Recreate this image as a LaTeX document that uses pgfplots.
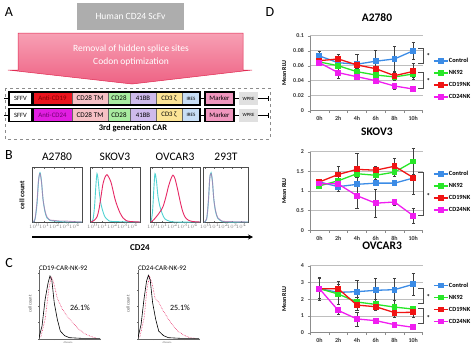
\documentclass[border=0pt]{standalone}
\usepackage{pgfplots}
\pgfplotsset{compat=1.18}
\usetikzlibrary{arrows.meta}
\usepackage{fontspec}
\setmainfont{Carlito}
\setsansfont{Carlito}
\newcommand{\fs}[1]{\fontsize{#1}{#1}\selectfont}
\definecolor{cctrl}{RGB}{60,140,230}
\definecolor{cnk}{RGB}{40,230,40}
\definecolor{cnineteen}{RGB}{240,20,20}
\definecolor{ctwentyfour}{RGB}{240,30,240}
\definecolor{gridc}{RGB}{190,190,190}
\definecolor{hcyan}{RGB}{80,210,210}
\definecolor{hred}{RGB}{230,40,100}
\definecolor{hmix}{RGB}{175,120,175}
\pgfplotsset{
 dax/.style={scale only axis, width=112.7pt, xmin=-0.5, xmax=5.5,
  xtick={0,1,2,3,4,5}, xticklabels={0h,2h,4h,6h,8h,10h},
  minor xtick={-0.5,0.5,1.5,2.5,3.5,4.5,5.5},
  axis x line*=bottom, axis y line*=left,
  ymajorgrids, grid style={gridc, line width=0.7pt},
  axis line style={black!45, line width=0.6pt},
  major tick length=2.5pt, minor tick length=2.5pt, tick align=outside,
  major x tick style={draw=none}, every tick/.style={black!45},
  tick label style={font=\fs{6}\bfseries, text=black!80},
  scaled y ticks=false, clip=false,
  ylabel={Mean RLU}, ylabel style={at={(axis description cs:-0.23,0.5)}, anchor=center, font=\fs{6}\bfseries},
  every axis plot/.append style={line width=1.3pt, mark=square*, mark size=2.3pt, mark options={solid}},
  error bars/y dir=both, error bars/y explicit,
  error bars/error bar style={line width=0.5pt, black!75},
  error bars/error mark options={rotate=90, mark size=1.6pt, line width=0.5pt, black!75},
  legend cell align=left,
  legend image code/.code={\draw[mark repeat=2,mark phase=2] plot coordinates {(0pt,0pt) (7pt,0pt) (14pt,0pt)};},
  legend style={draw=none, fill=none, anchor=west, font=\fs{6.3}\bfseries, row sep=5.5pt, inner sep=0pt, nodes={inner sep=0.5pt, text height=4.5pt, text depth=1pt}},
 },
 hax/.style={scale only axis, xmin=0, xmax=1, ymin=0, ymax=1.08, ytick=\empty,
  xtick={0.05,0.25,0.45,0.65,0.85}, xticklabels={$10^0$,$10^1$,$10^2$,$10^3$,$10^4$},
  xticklabel style={font=\fs{2.5}, text=black!50, yshift=2pt},
  tick align=inside, major tick length=1.5pt, axis line style={black!70, line width=0.5pt},
  every tick/.style={black!60}, clip=true},
 cax/.style={scale only axis, width=61pt, height=69pt, xmin=0, xmax=1, ymin=0, ymax=1.05,
  axis x line*=bottom, axis y line*=left, ytick={0,0.25,0.5,0.75,1}, yticklabels={},
  xtick={0,0.25,0.5,0.75,1}, xticklabels={},
  tick align=outside, major tick length=1pt, axis line style={black!60, line width=0.4pt},
  every tick/.style={black!60}},
}
\begin{document}
\begin{tikzpicture}
\path[use as bounding box] (0,0) rectangle (474pt,-348pt);
\begin{scope}[x=1pt,y=-1pt]
% ---------- Panel A ----------
\node[font=\fs{14}] at (9,12) {A};
\node[fill=black!32, text=white, font=\fs{9.5}, minimum width=107pt, minimum height=27pt, inner sep=0pt] at (130.5,16.5) {Human CD24 ScFv};
\shade[top color={rgb,255:red,247;green,160;blue,180}, bottom color={rgb,255:red,238;green,98;blue,132}, draw={rgb,255:red,225;green,40;blue,80}, line width=0.5pt]
  (18,33) -- (243,33) -- (243,70) -- (252,70) -- (132,84) -- (8,70) -- (18,70) -- cycle;
\node[text=white, font=\fs{9.5}] at (131,48.5) {Removal of hidden splice sites};
\node[text=white, font=\fs{9.5}] at (131,62) {Codon optimization};
\draw[black!45, dashed, line width=0.8pt] (5,88) rectangle (270,139);
\foreach \yc/\abfill/\abtext/\ablab in {98.5/{rgb,255:red,235;green,20;blue,30}/{rgb,255:red,120;green,0;blue,0}/Anti-CD19, 115/{rgb,255:red,225;green,30;blue,225}/{rgb,255:red,110;green,0;blue,110}/Anti-CD24}{
  \draw[line width=0.7pt] (4,\yc) -- (268,\yc);
  \draw[line width=0.7pt] (268,\yc-2.5) -- (268,\yc+2.5);
  \filldraw[fill=white, draw=black, line width=1.2pt] (9,\yc-6.5) rectangle (32,\yc+6.5);
  \node[font=\fs{6.5}] at (20.5,\yc) {SFFV};
  \filldraw[fill=\abfill, draw=black!60, line width=0.4pt] (33,\yc-6.5) rectangle (72,\yc+6.5);
  \node[font=\fs{6.8}, text=\abtext] at (52.5,\yc) {\ablab};
  \filldraw[fill={rgb,255:red,246;green,192;blue,197}, draw=black!60, line width=0.4pt] (72,\yc-6.5) rectangle (108,\yc+6.5);
  \node[font=\fs{7.2}] at (90,\yc) {CD28 TM};
  \filldraw[fill={rgb,255:red,168;green,236;blue,160}, draw=black!60, line width=0.4pt] (108,\yc-6.5) rectangle (130,\yc+6.5);
  \node[font=\fs{7}] at (119,\yc) {CD28};
  \filldraw[fill={rgb,255:red,206;green,186;blue,236}, draw=black!60, line width=0.4pt] (130,\yc-6.5) rectangle (156,\yc+6.5);
  \node[font=\fs{6.8}] at (143,\yc) {41BB};
  \filldraw[fill={rgb,255:red,252;green,228;blue,150}, draw=black!60, line width=0.4pt] (156,\yc-6.5) rectangle (182,\yc+6.5);
  \node[font=\fs{6.8}] at (169,\yc) {CD3 ζ};
  \filldraw[fill={rgb,255:red,200;green,222;blue,245}, draw=black!60, line width=0.4pt] (182,\yc-6.5) rectangle (200,\yc+6.5);
  \node[font=\fs{5}] at (191,\yc) {IRES};
  \draw[line width=1.2pt] (33,\yc-6.5) rectangle (200,\yc+6.5);
  \filldraw[fill={rgb,255:red,240;green,150;blue,190}, draw=black, line width=1.2pt] (205,\yc-6.5) rectangle (234,\yc+6.5);
  \node[font=\fs{6.8}] at (219.5,\yc) {Marker};
  \fill[black!12] (239,\yc-6.5) rectangle (258,\yc+6.5);
  \node[font=\fs{4.8}] at (248.5,\yc) {WPRE};
}
\node[font=\fs{8.5}\bfseries] at (133,128.5) {3rd generation CAR};
% ---------- Panel B ----------
\node[font=\fs{14}] at (9,155) {B};
\node[font=\fs{11.5}] at (57,157) {A2780};
\node[font=\fs{11.5}] at (115,157) {SKOV3};
\node[font=\fs{11.5}] at (175,157) {OVCAR3};
\node[font=\fs{11.5}] at (226,157) {293T};
\node[font=\fs{7}\bfseries, rotate=90] at (22,195) {cell count};
\draw[line width=1.2pt, -{Stealth[length=5pt,width=5pt]}] (32,237) -- (253,237);
\node[font=\fs{9}\bfseries] at (140,247.5) {CD24};
% ---------- Panel C ----------
\node[font=\fs{14}] at (9,263) {C};
\node[font=\fs{7}, anchor=west, inner sep=0pt] at (39,268) {CD19-CAR-NK-92};
\node[font=\fs{7}, anchor=west, inner sep=0pt] at (138,268) {CD24-CAR-NK-92};
\node[font=\fs{8}] at (80,308) {26.1\%};
\node[font=\fs{8}] at (180,308) {25.1\%};
\node[font=\fs{4.5}, rotate=90, text=black!70] at (30,304) {cell count};
\node[font=\fs{4.5}, rotate=90, text=black!70] at (128,304) {cell count};
\node[font=\fs{2.5}, text=black!60] at (68,343) {dTomato};
\node[font=\fs{2.5}, text=black!60] at (167,343) {dTomato};
% ---------- Panel D ----------
\node[font=\fs{14}] at (270,12) {D};
\end{scope}

% ===== B histograms =====
\begin{axis}[hax, width=50pt, height=55pt, at={(32pt,-222pt)}, anchor=south west]
\addplot[hcyan, line width=0.9pt, smooth] coordinates {(0.02,0) (0.06,0.05) (0.1,0.35) (0.13,0.8) (0.16,0.97) (0.19,0.8) (0.22,0.45) (0.26,0.2) (0.3,0.08) (0.36,0.03) (0.45,0.02) (0.55,0.01) (0.7,0) (1,0)};
\addplot[hmix, line width=0.9pt, smooth, opacity=0.75] coordinates {(0.02,0) (0.06,0.06) (0.1,0.4) (0.13,0.82) (0.16,0.95) (0.19,0.78) (0.22,0.45) (0.26,0.22) (0.3,0.1) (0.36,0.04) (0.45,0.03) (0.55,0.02) (0.65,0.02) (0.8,0.01) (1,0)};
\end{axis}
\begin{axis}[hax, width=50pt, height=55pt, at={(90pt,-222pt)}, anchor=south west]
\addplot[hcyan, line width=0.9pt, smooth] coordinates {(0.02,0) (0.06,0.05) (0.09,0.3) (0.12,0.75) (0.14,0.95) (0.16,0.85) (0.19,0.55) (0.22,0.35) (0.26,0.2) (0.3,0.1) (0.36,0.04) (0.45,0.01) (1,0)};
\addplot[hred, line width=0.9pt, smooth] coordinates {(0.02,0) (0.08,0.03) (0.14,0.1) (0.18,0.25) (0.22,0.5) (0.26,0.75) (0.3,0.88) (0.34,0.93) (0.38,0.87) (0.42,0.78) (0.46,0.62) (0.5,0.45) (0.55,0.3) (0.6,0.18) (0.66,0.08) (0.72,0.03) (0.8,0.01) (1,0)};
\end{axis}
\begin{axis}[hax, width=50pt, height=55pt, at={(150pt,-222pt)}, anchor=south west]
\addplot[hcyan, line width=0.9pt, smooth] coordinates {(0.02,0) (0.05,0.2) (0.08,0.7) (0.1,0.95) (0.13,0.8) (0.16,0.5) (0.2,0.3) (0.25,0.15) (0.3,0.06) (0.38,0.02) (0.5,0) (1,0)};
\addplot[hred, line width=0.9pt, smooth] coordinates {(0.02,0) (0.08,0.05) (0.14,0.12) (0.2,0.2) (0.26,0.3) (0.32,0.5) (0.37,0.7) (0.42,0.85) (0.46,0.92) (0.5,0.85) (0.55,0.65) (0.6,0.42) (0.65,0.22) (0.7,0.1) (0.76,0.04) (0.85,0.01) (1,0)};
\end{axis}
\begin{axis}[hax, width=45pt, height=55pt, at={(203pt,-222pt)}, anchor=south west]
\addplot[hcyan, line width=0.9pt, smooth] coordinates {(0.02,0) (0.08,0.05) (0.12,0.4) (0.15,0.85) (0.18,0.97) (0.21,0.8) (0.24,0.45) (0.28,0.2) (0.33,0.07) (0.4,0.02) (0.5,0) (1,0)};
\addplot[hmix, line width=0.9pt, smooth, opacity=0.75] coordinates {(0.02,0) (0.08,0.06) (0.12,0.42) (0.15,0.86) (0.18,0.95) (0.21,0.78) (0.24,0.45) (0.28,0.22) (0.33,0.08) (0.4,0.03) (0.5,0.01) (1,0)};
\end{axis}

% ===== C histograms =====
\begin{axis}[cax, at={(39pt,-339pt)}, anchor=south west]
\addplot[hred, line width=0.6pt, densely dotted] coordinates {(0.03,0.03) (0.1,0.3) (0.16,0.75) (0.2,0.95) (0.24,0.86) (0.3,0.62) (0.38,0.46) (0.45,0.36) (0.55,0.25) (0.65,0.15) (0.75,0.08) (0.85,0.04) (0.95,0.01)};
\addplot[black, line width=0.6pt] coordinates {(0,0.02) (0.05,0.2) (0.1,0.6) (0.15,0.86) (0.18,0.96) (0.21,0.9) (0.25,0.55) (0.3,0.3) (0.35,0.12) (0.42,0.05) (0.5,0.02) (0.7,0.01) (1,0.01)};
\end{axis}
\begin{axis}[cax, at={(138pt,-339pt)}, anchor=south west]
\addplot[hred, line width=0.6pt, densely dotted] coordinates {(0.03,0.03) (0.1,0.32) (0.15,0.78) (0.19,0.95) (0.23,0.85) (0.28,0.62) (0.34,0.56) (0.4,0.45) (0.48,0.33) (0.56,0.22) (0.65,0.12) (0.75,0.06) (0.85,0.02) (0.95,0.01)};
\addplot[black, line width=0.6pt] coordinates {(0,0.02) (0.05,0.22) (0.1,0.62) (0.14,0.88) (0.17,0.97) (0.2,0.9) (0.24,0.55) (0.29,0.3) (0.34,0.12) (0.42,0.05) (0.5,0.02) (0.7,0.01) (1,0.01)};
\end{axis}

% ===== D: A2780 =====
\begin{axis}[dax, height=75pt, at={(310pt,-110.7pt)}, anchor=south west,
  ymin=0, ymax=0.1, ytick={0,0.02,0.04,0.06,0.08,0.1}, yticklabels={0,0.02,0.04,0.06,0.08,0.1},
  title={A2780}, title style={at={(axis description cs:0.594,1)}, anchor=base, yshift=8pt, font=\fs{11.5}\bfseries},
  legend style={at={(axis description cs:1.091,0.423)}}]
\addplot[cctrl] table[row sep=\\, x=x, y=y, y error=e] {x y e\\ 0 0.073 0.006\\ 1 0.064 0.003\\ 2 0.062 0.013\\ 3 0.066 0.015\\ 4 0.069 0.017\\ 5 0.080 0.011\\};
\addplot[cnk] table[row sep=\\, x=x, y=y, y error=e] {x y e\\ 0 0.065 0.003\\ 1 0.060 0.003\\ 2 0.052 0.004\\ 3 0.0476 0.003\\ 4 0.045 0.004\\ 5 0.049 0.005\\};
\addplot[cnineteen] table[row sep=\\, x=x, y=y, y error=e] {x y e\\ 0 0.0667 0.003\\ 1 0.069 0.006\\ 2 0.061 0.005\\ 3 0.056 0.003\\ 4 0.0467 0.004\\ 5 0.0524 0.011\\};
\addplot[ctwentyfour] table[row sep=\\, x=x, y=y, y error=e] {x y e\\ 0 0.064 0.003\\ 1 0.0507 0.007\\ 2 0.0453 0.004\\ 3 0.040 0.003\\ 4 0.0329 0.004\\ 5 0.0289 0.003\\};
\legend{Control,NK92,CD19NK,CD24NK}
\draw[black!70, line width=0.5pt] (axis cs:5.25,0.0836) -- (axis cs:5.52,0.0836) -- (axis cs:5.52,0.0636) -- (axis cs:5.25,0.0636);
\draw[black!70, line width=0.5pt] (axis cs:5.25,0.0516) -- (axis cs:5.52,0.0516) -- (axis cs:5.52,0.0303) -- (axis cs:5.25,0.0303);
\node[font=\fs{7}\bfseries] at (axis cs:5.8,0.0735) {*};
\node[font=\fs{7}\bfseries] at (axis cs:5.8,0.040) {*};
\end{axis}

% ===== D: SKOV3 =====
\begin{axis}[dax, height=78.6pt, at={(310pt,-230.3pt)}, anchor=south west,
  ymin=0, ymax=2, ytick={0,0.5,1,1.5,2}, yticklabels={0,0.5,1,1.5,2},
  title={SKOV3}, title style={at={(axis description cs:0.594,1)}, anchor=base, yshift=10pt, font=\fs{11.5}\bfseries},
  legend style={at={(axis description cs:1.091,0.487)}}]
\addplot[cctrl] table[row sep=\\, x=x, y=y, y error=e] {x y e\\ 0 1.23 0.05\\ 1 1.11 0.12\\ 2 1.17 0.05\\ 3 1.20 0.05\\ 4 1.20 0.05\\ 5 1.33 0.05\\};
\addplot[cnk] table[row sep=\\, x=x, y=y, y error=e] {x y e\\ 0 1.13 0.05\\ 1 1.26 0.05\\ 2 1.44 0.1\\ 3 1.40 0.1\\ 4 1.48 0.1\\ 5 1.75 0.33\\};
\addplot[cnineteen] table[row sep=\\, x=x, y=y, y error=e] {x y e\\ 0 1.23 0.05\\ 1 1.42 0.21\\ 2 1.55 0.4\\ 3 1.53 0.1\\ 4 1.63 0.2\\ 5 1.34 0.43\\};
\addplot[ctwentyfour] table[row sep=\\, x=x, y=y, y error=e] {x y e\\ 0 1.19 0.05\\ 1 1.18 0.05\\ 2 0.88 0.31\\ 3 0.69 0.35\\ 4 0.72 0.08\\ 5 0.37 0.2\\};
\legend{Control,NK92,CD19NK,CD24NK}
\draw[black!70, line width=0.5pt] (axis cs:5.25,1.466) -- (axis cs:5.52,1.466) -- (axis cs:5.52,0.389) -- (axis cs:5.25,0.389);
\node[font=\fs{7}\bfseries] at (axis cs:5.8,0.88) {*};
\end{axis}

% ===== D: OVCAR3 =====
\begin{axis}[dax, height=67pt, at={(310pt,-332.7pt)}, anchor=south west,
  ymin=0, ymax=4, ytick={0,1,2,3,4}, yticklabels={0,1,2,3,4},
  title={OVCAR3}, title style={at={(axis description cs:0.64,1)}, anchor=base, yshift=10pt, font=\fs{11.5}\bfseries},
  legend style={at={(axis description cs:1.091,0.436)}}]
\addplot[cctrl] table[row sep=\\, x=x, y=y, y error=e] {x y e\\ 0 2.63 0.68\\ 1 2.41 0.1\\ 2 2.45 0.7\\ 3 2.53 0.74\\ 4 2.57 0.66\\ 5 2.89 0.66\\};
\addplot[cnk] table[row sep=\\, x=x, y=y, y error=e] {x y e\\ 0 2.63 0.6\\ 1 2.31 0.6\\ 2 1.83 0.3\\ 3 1.69 0.3\\ 4 1.53 0.4\\ 5 1.41 0.15\\};
\addplot[cnineteen] table[row sep=\\, x=x, y=y, y error=e] {x y e\\ 0 2.63 0.6\\ 1 2.63 0.42\\ 2 1.65 0.3\\ 3 1.55 0.2\\ 4 1.20 0.3\\ 5 1.22 0.3\\};
\addplot[ctwentyfour] table[row sep=\\, x=x, y=y, y error=e] {x y e\\ 0 2.63 0.6\\ 1 1.33 0.2\\ 2 0.82 0.43\\ 3 0.72 0.1\\ 4 0.48 0.1\\ 5 0.32 0.1\\};
\legend{Control,NK92,CD19NK,CD24NK}
\draw[black!70, line width=0.5pt] (axis cs:5.25,2.67) -- (axis cs:5.52,2.67) -- (axis cs:5.52,1.77) -- (axis cs:5.25,1.77);
\draw[black!70, line width=0.5pt] (axis cs:5.25,1.47) -- (axis cs:5.52,1.47) -- (axis cs:5.52,0.58) -- (axis cs:5.25,0.58);
\node[font=\fs{7}\bfseries] at (axis cs:5.8,2.13) {*};
\node[font=\fs{7}\bfseries] at (axis cs:5.8,0.88) {*};
\end{axis}
\end{tikzpicture}
\end{document}
